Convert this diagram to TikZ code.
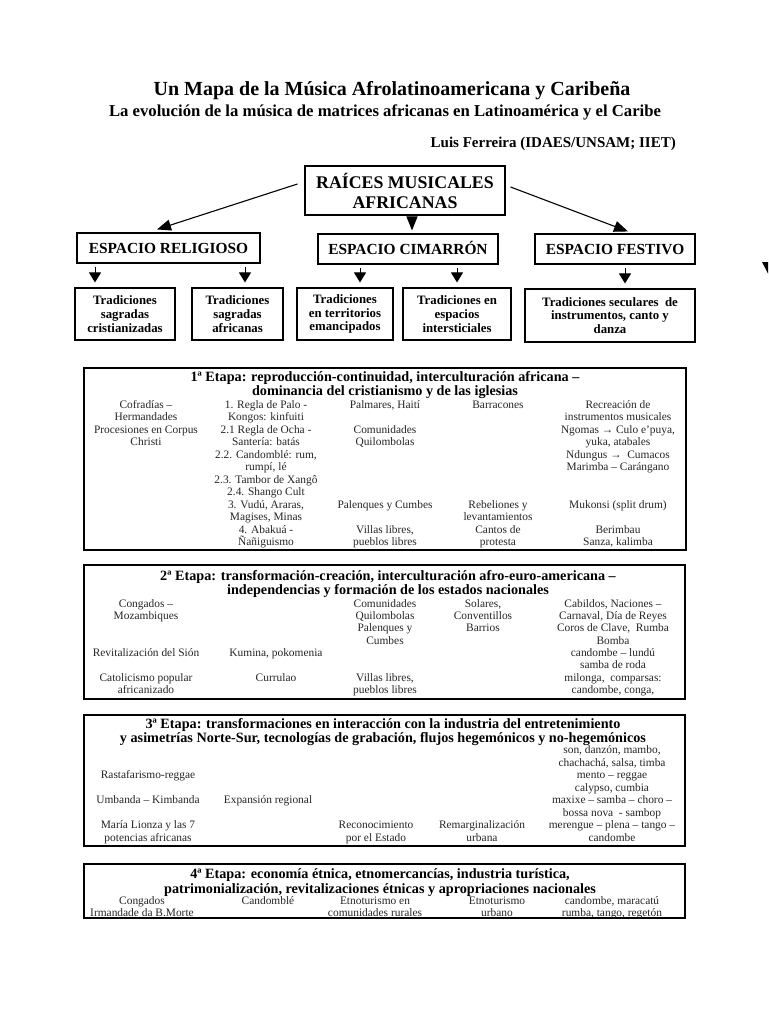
\documentclass[tikz,border=0pt]{standalone}
\usepackage{fontspec}
\setmainfont{Liberation Serif}
\usetikzlibrary{arrows.meta,positioning}

\begin{document}
\begin{tikzpicture}[x=1pt, y=-1pt, >={Triangle[length=14pt,width=11pt]},
    box/.style={draw, line width=1.1pt, inner sep=0pt, align=center},
    espacio/.style={box, minimum height=30pt, text height=10.5pt, text depth=0pt,
                    font=\bfseries\fontsize{15.4}{16}\selectfont},
    trad/.style={box, minimum height=52pt, font=\bfseries\fontsize{12.8}{13.8}\selectfont},
    etapa/.style={draw, line width=1.6pt, inner sep=0pt},
    head/.style={align=center, inner sep=0pt, font=\bfseries\fontsize{14.2}{14.6}\selectfont},
    cell/.style={inner sep=0pt, text height=8pt, text depth=2.5pt, text=black!85,
                 font=\fontsize{11.4}{12}\selectfont},
    dn/.style={-{Triangle[length=10pt,width=12pt]}, line width=1pt, shorten <=3pt, shorten >=5pt}]
\fill[white] (0,0) rectangle (768,1024);
\useasboundingbox (0,0) rectangle (768,1024);

% titulo
\node[inner sep=0pt, font=\bfseries\fontsize{20}{24}\selectfont] (titulo) at (392,91)
  {Un Mapa de la Música Afrolatinoamericana y Caribeña};
\node[inner sep=0pt, font=\bfseries\fontsize{16.7}{20}\selectfont] (subtitulo) at (385,112)
  {La evolución de la música de matrices africanas en Latinoamérica y el Caribe};
\node[inner sep=0pt, anchor=east, font=\bfseries\fontsize{15}{18}\selectfont] (autor) at (676,144)
  {Luis Ferreira (IDAES/UNSAM; IIET)};

% raices y espacios
\node[box, minimum width=200pt, minimum height=49pt, font=\bfseries\fontsize{17.8}{20}\selectfont]
  (raices) at (405,190.5) {RAÍCES MUSICALES\\AFRICANAS};
\node[espacio, minimum width=183pt] (religioso) at (168.5,248) {ESPACIO RELIGIOSO};
\node[espacio, minimum width=180pt] (cimarron) at (408,249) {ESPACIO CIMARRÓN};
\node[espacio, minimum width=160pt] (festivo) at (615,249) {ESPACIO FESTIVO};

\node[trad, minimum width=100pt] (cristianizadas) at (125,314) {Tradiciones\\sagradas\\cristianizadas};
\node[trad, minimum width=91pt] (africanas) at (237.5,314) {Tradiciones\\sagradas\\africanas};
\node[trad, minimum width=96pt] (emancipados) at (345,314) {Tradiciones\\en territorios\\emancipados};
\node[trad, minimum width=108pt] (intersticiales) at (457,314) {Tradiciones en\\espacios\\intersticiales};
\node[trad, minimum width=170pt, minimum height=53pt] (seculares) at (610,315.5)
  {Tradiciones seculares~ de\\instrumentos, canto y\\danza};

\draw[->, line width=1.1pt] ([xshift=-7pt,yshift=6.5pt]raices.west) -- ([xshift=-11.5pt,yshift=3pt]religioso.north);
\draw[->, line width=1.1pt] ([xshift=7pt,yshift=-2pt]raices.south) -- ([xshift=4pt,yshift=3pt]cimarron.north);
\draw[->, line width=1.1pt] ([xshift=5pt,yshift=3.5pt]raices.east) -- ([xshift=13pt,yshift=2pt]festivo.north);

\foreach \a/\b/\x in {religioso/cristianizadas/95, religioso/africanas/245, cimarron/emancipados/360,
                      cimarron/intersticiales/457, festivo/seculares/625}
  \draw[dn] (\a.south -| \x,0) -- (\b.north -| \x,0);

% resto de flecha al borde
\begin{scope}
\clip (0,0) rectangle (768,1024);
\fill (762,262) -- (774,262) -- (768,273.5) -- cycle;
\end{scope}

% 1a etapa
\node[etapa, minimum width=602pt, minimum height=182pt] (etapa1) at (385,459) {};
\node[head] (h1) at (385,385)
  {1ª Etapa: reproducción-continuidad, interculturación africana –\\dominancia del cristianismo y de las iglesias};
\foreach \c/\r/\t in {1/0/Cofradías –, 1/1/Hermandades, 1/2/Procesiones en Corpus, 1/3/Christi,
    2/0/1. Regla de Palo -, 2/1/Kongos: kinfuiti, 2/2/2.1 Regla de Ocha -, 2/3/Santería: batás,
    2/4/{2.2. Candomblé: rum,}, 2/5/{rumpí, lé}, 2/6/2.3. Tambor de Xangô, 2/7/2.4. Shango Cult,
    2/8/{3. Vudú, Araras,}, 2/9/{Magises, Minas}, 2/10/4. Abakuá -, 2/11/Ñañiguismo,
    3/0/{Palmares, Haití}, 3/2/Comunidades, 3/3/Quilombolas, 3/8/Palenques y Cumbes,
    3/10/{Villas libres,}, 3/11/pueblos libres,
    4/0/Barracones, 4/8/Rebeliones y, 4/9/levantamientos, 4/10/Cantos de, 4/11/protesta,
    5/0/Recreación de, 5/1/instrumentos musicales, 5/2/{Ngomas → Culo e’puya,}, 5/3/{yuka, atabales},
    5/4/Ndungus →~ Cumacos, 5/5/Marimba – Carángano, 5/8/Mukonsi (split drum), 5/10/Berimbau,
    5/11/{Sanza, kalimba}} {
  \pgfmathsetmacro{\xc}{{146,266,385,498,618}[\c-1]}
  \node[cell] (e1-\c-\r) at ({\xc},{405.5+12.5*\r}) {\t};
}

% 2a etapa
\node[etapa, minimum width=601pt, minimum height=134pt] (etapa2) at (384.5,632) {};
\node[head] (h2) at (388,584)
  {2ª Etapa: transformación-creación, interculturación afro-euro-americana –\\independencias y formación de los estados nacionales};
\foreach \c/\r/\t in {1/0/Congados –, 1/1/Mozambiques, 1/4/Revitalización del Sión,
    1/6/Catolicismo popular, 1/7/africanizado, 2/4/{Kumina, pokomenia}, 2/6/Currulao,
    3/0/Comunidades, 3/1/Quilombolas, 3/2/Palenques y, 3/3/Cumbes, 3/6/{Villas libres,}, 3/7/pueblos libres,
    4/0/{Solares,}, 4/1/Conventillos, 4/2/Barrios,
    5/0/{Cabildos, Naciones –}, 5/1/{Carnaval, Día de Reyes}, 5/2/{Coros de Clave,~ Rumba}, 5/3/Bomba,
    5/4/candombe – lundú, 5/5/samba de roda, 5/6/{milonga,~ comparsas:}, 5/7/{candombe, conga,}} {
  \pgfmathsetmacro{\xc}{{146,276,385,483,613}[\c-1]}
  \node[cell] (e2-\c-\r) at ({\xc},{604.5+12.3*\r}) {\t};
}

% 3a etapa
\node[etapa, minimum width=601pt, minimum height=131pt] (etapa3) at (384.5,780.5) {};
\node[head] (h3) at (383,732)
  {3ª Etapa: transformaciones en interacción con la industria del entretenimiento\\y asimetrías Norte-Sur, tecnologías de grabación, flujos hegemónicos y no-hegemónicos};
\foreach \c/\r/\t in {5/0/{son, danzón, mambo,}, 5/1/{chachachá, salsa, timba}, 5/2/mento – reggae,
    5/3/{calypso, cumbia}, 5/4/maxixe – samba – choro –, 5/5/bossa nova~ - sambop,
    5/6/merengue – plena – tango –, 5/7/candombe,
    1/2/Rastafarismo-reggae, 1/4/Umbanda – Kimbanda, 1/6/María Lionza y las 7, 1/7/potencias africanas,
    2/4/Expansión regional, 3/6/Reconocimiento, 3/7/por el Estado, 4/6/Remarginalización, 4/7/urbana} {
  \pgfmathsetmacro{\xc}{{148,268,376,482,612}[\c-1]}
  \node[cell] (e3-\c-\r) at ({\xc},{751+12.5*\r}) {\t};
}

% 4a etapa
\node[etapa, minimum width=601pt, minimum height=54pt] (etapa4) at (384.5,891) {};
\node[head] (h4) at (380,882.5)
  {4ª Etapa: economía étnica, etnomercancías, industria turística,\\patrimonialización, revitalizaciones étnicas y apropriaciones nacionales};
\foreach \c/\r/\t in {1/0/Congados, 1/1/Irmandade da B.Morte, 2/0/Candomblé,
    3/0/Etnoturismo en, 3/1/comunidades rurales, 4/0/Etnoturismo, 4/1/urbano,
    5/0/{candombe, maracatú}, 5/1/{rumba, tango, regetón}} {
  \pgfmathsetmacro{\xc}{{142,268,375,497,612}[\c-1]}
  \node[cell] (e4-\c-\r) at ({\xc},{901.5+12*\r}) {\t};
}
\end{tikzpicture}
\end{document}
